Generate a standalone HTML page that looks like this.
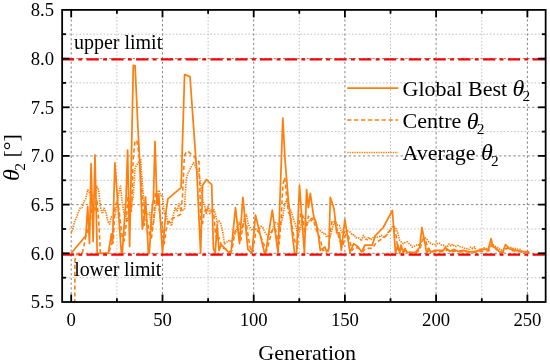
<!DOCTYPE html>
<html><head><meta charset="utf-8"><title>Generation plot</title>
<style>
html,body{margin:0;padding:0;background:#fff;}
svg{display:block;}
text{font-family:"Liberation Serif","DejaVu Serif",serif;fill:#000;}
.tl{font-size:18.7px;}
.it{font-style:italic;}
</style></head><body>
<svg width="550" height="363" viewBox="0 0 550 363">
<rect x="0" y="0" width="550" height="363" fill="#fff"/>
<defs><clipPath id="pc"><rect x="62.15" y="9.9" width="483.45000000000005" height="292.1"/></clipPath></defs>
<g stroke="#c2c2c2" stroke-width="1" stroke-dasharray="1.6 1.85" fill="none"><line x1="116.9" y1="9.9" x2="116.9" y2="302.0"/><line x1="208.1" y1="9.9" x2="208.1" y2="302.0"/><line x1="299.3" y1="9.9" x2="299.3" y2="302.0"/><line x1="390.5" y1="9.9" x2="390.5" y2="302.0"/><line x1="481.8" y1="9.9" x2="481.8" y2="302.0"/><line x1="62.15" y1="277.7" x2="545.6" y2="277.7"/><line x1="62.15" y1="229.0" x2="545.6" y2="229.0"/><line x1="62.15" y1="180.3" x2="545.6" y2="180.3"/><line x1="62.15" y1="131.6" x2="545.6" y2="131.6"/><line x1="62.15" y1="82.9" x2="545.6" y2="82.9"/><line x1="62.15" y1="34.2" x2="545.6" y2="34.2"/></g>
<g stroke="#858585" stroke-width="1" stroke-dasharray="2.3 2.4" fill="none"><line x1="71.2" y1="9.9" x2="71.2" y2="302.0"/><line x1="162.5" y1="9.9" x2="162.5" y2="302.0"/><line x1="253.7" y1="9.9" x2="253.7" y2="302.0"/><line x1="344.9" y1="9.9" x2="344.9" y2="302.0"/><line x1="436.1" y1="9.9" x2="436.1" y2="302.0"/><line x1="527.4" y1="9.9" x2="527.4" y2="302.0"/><line x1="62.15" y1="253.3" x2="545.6" y2="253.3"/><line x1="62.15" y1="204.6" x2="545.6" y2="204.6"/><line x1="62.15" y1="155.9" x2="545.6" y2="155.9"/><line x1="62.15" y1="107.3" x2="545.6" y2="107.3"/><line x1="62.15" y1="58.6" x2="545.6" y2="58.6"/></g>
<g clip-path="url(#pc)" fill="none" stroke="#FF7F0E" stroke-linejoin="round"><polyline stroke-width="1.7" stroke-dasharray="1.4 1.0" points="71.2,233.8 73.1,227.5 74.9,220.9 76.7,217.1 78.5,211.7 80.4,207.7 82.2,207.5 84.0,201.5 85.8,198.7 87.7,189.9 89.5,192.4 91.3,195.5 93.1,194.6 95.0,197.8 96.8,186.4 98.6,189.8 100.4,206.9 102.3,213.7 104.1,208.2 105.9,212.3 107.7,221.2 109.6,224.1 111.4,216.8 113.2,216.5 115.0,214.3 116.9,204.2 118.7,193.3 120.5,186.0 122.3,203.7 124.2,213.9 126.0,216.3 127.8,220.6 129.6,211.3 131.5,204.6 133.3,194.9 135.1,167.6 136.9,164.7 138.8,161.8 140.6,158.9 142.4,185.2 144.2,204.6 146.1,211.4 147.9,214.1 149.7,212.6 151.5,229.2 153.4,223.0 155.2,209.3 157.0,198.6 158.8,190.2 160.7,195.3 162.5,195.6 164.3,213.5 166.1,213.7 167.9,223.7 169.8,221.3 171.6,226.1 173.4,214.8 175.2,207.8 177.1,211.1 178.9,203.6 180.7,210.7 182.5,210.3 184.4,209.5 186.2,179.3 188.0,173.5 189.8,169.6 191.7,165.7 193.5,162.8 195.3,165.7 197.1,169.6 199.0,174.4 200.8,185.2 202.6,199.8 204.4,204.6 206.3,213.3 208.1,206.0 209.9,213.5 211.7,211.1 213.6,208.8 215.4,213.7 217.2,223.0 219.0,221.0 220.9,223.8 222.7,232.0 224.5,243.8 226.3,242.6 228.2,241.0 230.0,240.2 231.8,241.8 233.6,235.9 235.5,233.1 237.3,228.2 239.1,222.4 240.9,227.8 242.8,227.8 244.6,216.0 246.4,214.6 248.2,223.8 250.1,227.7 251.9,230.4 253.7,229.5 255.5,229.3 257.3,228.9 259.2,229.1 261.0,226.3 262.8,227.3 264.6,231.7 266.5,234.3 268.3,236.2 270.1,231.7 271.9,231.6 273.8,226.1 275.6,222.7 277.4,223.6 279.2,230.2 281.1,223.3 282.9,216.3 284.7,204.2 286.5,200.3 288.4,207.0 290.2,209.3 292.0,214.2 293.8,220.4 295.7,225.3 297.5,232.9 299.3,232.7 301.1,225.0 303.0,216.2 304.8,217.9 306.6,226.3 308.4,221.0 310.3,220.3 312.1,221.0 313.9,217.9 315.7,221.7 317.6,228.3 319.4,230.5 321.2,231.1 323.0,233.5 324.9,233.1 326.7,237.1 328.5,235.9 330.3,236.3 332.2,229.0 334.0,223.1 335.8,221.9 337.6,225.1 339.5,225.6 341.3,231.9 343.1,232.5 344.9,232.8 346.7,230.4 348.6,231.1 350.4,232.2 352.2,234.9 354.0,234.8 355.9,237.7 357.7,237.5 359.5,238.3 361.3,240.9 363.2,235.4 365.0,237.5 366.8,240.5 368.6,237.0 370.5,239.6 372.3,238.4 374.1,236.8 375.9,237.6 377.8,237.0 379.6,236.6 381.4,235.4 383.2,237.1 385.1,237.0 386.9,234.6 388.7,231.1 390.5,229.5 392.4,226.5 394.2,226.5 396.0,228.3 397.8,233.1 399.7,240.4 401.5,242.2 403.3,243.7 405.1,242.5 407.0,241.9 408.8,243.4 410.6,244.9 412.4,247.1 414.3,246.2 416.1,245.3 417.9,244.4 419.7,245.4 421.6,241.2 423.4,237.4 425.2,238.0 427.0,239.6 428.9,242.0 430.7,243.3 432.5,244.2 434.3,244.5 436.1,244.2 438.0,243.3 439.8,243.3 441.6,245.0 443.4,245.2 445.3,246.4 447.1,246.9 448.9,243.9 450.7,245.9 452.6,244.1 454.4,246.1 456.2,246.4 458.0,245.5 459.9,246.6 461.7,246.9 463.5,247.8 465.3,248.6 467.2,248.7 469.0,249.5 470.8,247.2 472.6,248.5 474.5,246.8 476.3,251.4 478.1,250.4 479.9,249.3 481.8,249.6 483.6,248.1 485.4,247.9 487.2,248.9 489.1,248.6 490.9,244.9 492.7,245.2 494.5,245.3 496.4,247.4 498.2,248.1 500.0,249.5 501.8,249.9 503.7,249.1 505.5,248.9 507.3,248.3 509.1,247.8 511.0,247.5 512.8,248.3 514.6,248.2 516.4,248.8 518.3,249.6 520.1,249.4 521.9,251.4 523.7,251.6 525.6,251.3 527.4,251.9 529.2,251.9"/><polyline stroke-width="1.6" stroke-dasharray="4.2 2.7" points="71.2,1129.6 73.1,1129.6 74.9,260.1 76.7,254.8 78.5,253.3 80.4,253.3 82.2,253.3 84.0,245.5 85.8,236.8 87.7,230.5 89.5,227.5 91.3,210.2 93.1,208.1 95.0,209.9 96.8,199.2 98.6,218.9 100.4,253.3 102.3,253.3 104.1,253.3 105.9,253.3 107.7,253.3 109.6,250.6 111.4,243.7 113.2,242.6 115.0,206.4 116.9,202.0 118.7,208.0 120.5,223.1 122.3,238.2 124.2,241.0 126.0,225.6 127.8,198.0 129.6,201.9 131.5,211.2 133.3,156.9 135.1,140.6 136.9,140.7 138.8,152.8 140.6,176.7 142.4,198.2 144.2,225.2 146.1,219.4 147.9,223.3 149.7,236.4 151.5,237.9 153.4,222.9 155.2,193.9 157.0,193.0 158.8,206.8 160.7,220.0 162.5,227.0 164.3,243.7 166.1,229.9 167.9,222.8 169.8,219.9 171.6,219.0 173.4,218.1 175.2,217.1 177.1,216.2 178.9,215.3 180.7,214.3 182.5,196.0 184.4,155.9 186.2,152.1 188.0,151.1 189.8,152.8 191.7,154.6 193.5,156.3 195.3,158.1 197.1,159.8 199.0,161.6 200.8,220.6 202.6,223.6 204.4,211.3 206.3,209.8 208.1,209.2 209.9,209.4 211.7,210.4 213.6,211.5 215.4,233.4 217.2,240.8 219.0,237.6 220.9,243.8 222.7,248.4 224.5,248.4 226.3,249.5 228.2,250.6 230.0,251.8 231.8,251.1 233.6,240.1 235.5,229.2 237.3,226.8 239.1,230.8 240.9,240.2 242.8,225.6 244.6,219.8 246.4,224.4 248.2,236.0 250.1,247.5 251.9,251.7 253.7,245.3 255.5,233.8 257.3,230.8 259.2,232.6 261.0,237.2 262.8,241.8 264.6,246.4 266.5,251.0 268.3,244.9 270.1,237.9 271.9,230.9 273.8,228.1 275.6,229.8 277.4,237.9 279.2,243.8 281.1,219.2 282.9,185.2 284.7,177.4 286.5,194.9 288.4,212.4 290.2,215.1 292.0,226.4 293.8,235.7 295.7,245.0 297.5,248.2 299.3,222.6 301.1,212.4 303.0,218.5 304.8,233.6 306.6,224.7 308.4,216.2 310.3,219.9 312.1,218.1 313.9,221.1 315.7,228.4 317.6,232.9 319.4,237.0 321.2,243.1 323.0,250.6 324.9,249.8 326.7,249.8 328.5,251.0 330.3,231.3 332.2,220.1 334.0,221.4 335.8,224.8 337.6,231.3 339.5,241.0 341.3,241.0 343.1,245.1 344.9,235.9 346.7,233.9 348.6,236.7 350.4,243.6 352.2,250.4 354.0,247.7 355.9,247.7 357.7,248.0 359.5,248.8 361.3,250.0 363.2,251.3 365.0,249.0 366.8,248.4 368.6,248.4 370.5,248.4 372.3,248.4 374.1,245.9 375.9,242.7 377.8,241.6 379.6,240.4 381.4,239.3 383.2,238.2 385.1,236.4 386.9,234.4 388.7,232.3 390.5,230.3 392.4,228.2 394.2,228.6 396.0,235.2 397.8,249.3 399.7,248.6 401.5,249.0 403.3,249.6 405.1,251.2 407.0,250.6 408.8,251.6 410.6,252.7 412.4,252.7 414.3,252.7 416.1,252.7 417.9,251.5 419.7,250.2 421.6,242.8 423.4,238.8 425.2,239.5 427.0,245.2 428.9,251.1 430.7,250.6 432.5,251.6 434.3,251.7 436.1,251.6 438.0,251.6 439.8,251.6 441.6,251.6 443.4,251.6 445.3,250.3 447.1,249.9 448.9,250.3 450.7,251.3 452.6,251.6 454.4,251.1 456.2,251.0 458.0,251.3 459.9,251.9 461.7,251.8 463.5,251.6 465.3,251.6 467.2,251.7 469.0,252.0 470.8,252.3 472.6,252.3 474.5,252.2 476.3,252.2 478.1,251.9 479.9,251.5 481.8,251.1 483.6,251.0 485.4,251.0 487.2,251.0 489.1,250.6 490.9,246.3 492.7,244.6 494.5,246.6 496.4,249.5 498.2,250.1 500.0,251.1 501.8,252.1 503.7,252.1 505.5,249.0 507.3,248.2 509.1,248.6 511.0,249.7 512.8,250.7 514.6,251.0 516.4,251.2 518.3,251.5 520.1,251.7 521.9,251.9 523.7,252.1 525.6,252.3 527.4,252.5 529.2,252.6"/><polyline stroke-width="1.75" points="71.2,253.3 85.8,235.8 87.7,206.6 89.5,243.6 91.1,163.7 93.1,241.6 95.0,155.0 97.2,253.3 108.3,253.3 111.4,233.8 112.5,243.6 114.9,162.8 121.4,253.3 122.3,253.3 124.2,224.1 126.0,199.8 127.6,150.1 129.6,246.5 133.3,65.4 135.1,65.9 138.0,129.7 139.5,156.9 142.4,229.0 144.2,219.2 145.5,196.8 148.4,253.3 149.3,253.3 152.4,204.6 153.4,199.8 155.0,141.3 157.0,204.6 158.8,194.9 162.5,253.3 165.6,214.4 167.9,198.8 181.1,187.6 184.6,74.6 190.0,76.5 197.0,175.4 200.6,253.3 202.6,185.2 206.6,179.5 211.7,184.6 213.4,248.4 215.2,253.3 217.2,224.6 219.0,250.4 221.2,244.6 229.8,253.3 230.9,253.3 235.5,207.6 239.5,243.6 242.9,197.4 247.9,249.4 251.9,253.3 255.5,215.0 264.6,253.3 265.6,253.3 272.3,210.1 278.1,253.3 282.8,118.2 285.1,160.8 288.4,200.7 294.6,253.3 296.6,253.3 299.5,185.2 304.4,253.3 306.6,189.7 308.4,207.6 310.3,193.4 312.6,209.5 313.9,217.3 315.7,221.2 318.3,234.8 320.3,250.4 324.9,247.0 326.7,251.9 328.9,248.4 330.3,197.4 334.0,208.5 336.7,232.9 339.5,232.9 341.3,250.4 344.9,219.7 350.0,252.3 353.7,243.6 357.7,246.5 361.7,251.9 365.0,245.0 372.3,245.0 375.2,235.8 383.2,227.5 392.4,210.5 395.5,253.3 397.8,244.6 399.7,253.3 401.1,245.0 403.3,253.3 405.1,248.4 407.0,252.3 415.5,252.3 419.7,247.5 421.9,227.5 424.5,240.7 426.7,253.3 428.9,248.4 430.7,252.3 434.3,250.4 443.4,250.4 445.3,247.5 449.7,251.4 454.4,249.4 458.0,251.4 463.5,250.4 469.0,251.9 476.3,251.4 481.8,249.4 488.3,249.4 491.1,238.7 492.7,246.5 495.4,248.0 501.3,253.3 502.7,252.3 505.5,244.6 507.3,246.5 509.9,248.9 518.3,250.9 527.4,252.3 529.2,252.5"/></g>
<line x1="61.75" y1="59.4" x2="545.6" y2="59.4" stroke="#FF0000" stroke-width="2.2" stroke-dasharray="12.3 4.3 3.88 4.3"/><line x1="61.75" y1="254.7" x2="545.6" y2="254.7" stroke="#FF0000" stroke-width="2.2" stroke-dasharray="12.3 4.3 3.88 4.3"/>
<g stroke="#000" stroke-width="1.8" fill="none"><line x1="71.2" y1="302.0" x2="71.2" y2="294.5"/><line x1="71.2" y1="9.9" x2="71.2" y2="17.4"/><line x1="116.9" y1="302.0" x2="116.9" y2="298.2"/><line x1="116.9" y1="9.9" x2="116.9" y2="13.7"/><line x1="162.5" y1="302.0" x2="162.5" y2="294.5"/><line x1="162.5" y1="9.9" x2="162.5" y2="17.4"/><line x1="208.1" y1="302.0" x2="208.1" y2="298.2"/><line x1="208.1" y1="9.9" x2="208.1" y2="13.7"/><line x1="253.7" y1="302.0" x2="253.7" y2="294.5"/><line x1="253.7" y1="9.9" x2="253.7" y2="17.4"/><line x1="299.3" y1="302.0" x2="299.3" y2="298.2"/><line x1="299.3" y1="9.9" x2="299.3" y2="13.7"/><line x1="344.9" y1="302.0" x2="344.9" y2="294.5"/><line x1="344.9" y1="9.9" x2="344.9" y2="17.4"/><line x1="390.5" y1="302.0" x2="390.5" y2="298.2"/><line x1="390.5" y1="9.9" x2="390.5" y2="13.7"/><line x1="436.1" y1="302.0" x2="436.1" y2="294.5"/><line x1="436.1" y1="9.9" x2="436.1" y2="17.4"/><line x1="481.8" y1="302.0" x2="481.8" y2="298.2"/><line x1="481.8" y1="9.9" x2="481.8" y2="13.7"/><line x1="527.4" y1="302.0" x2="527.4" y2="294.5"/><line x1="527.4" y1="9.9" x2="527.4" y2="17.4"/><line x1="62.15" y1="277.7" x2="65.95" y2="277.7"/><line x1="545.6" y1="277.7" x2="541.8000000000001" y2="277.7"/><line x1="62.15" y1="253.3" x2="69.65" y2="253.3"/><line x1="545.6" y1="253.3" x2="538.1" y2="253.3"/><line x1="62.15" y1="229.0" x2="65.95" y2="229.0"/><line x1="545.6" y1="229.0" x2="541.8000000000001" y2="229.0"/><line x1="62.15" y1="204.6" x2="69.65" y2="204.6"/><line x1="545.6" y1="204.6" x2="538.1" y2="204.6"/><line x1="62.15" y1="180.3" x2="65.95" y2="180.3"/><line x1="545.6" y1="180.3" x2="541.8000000000001" y2="180.3"/><line x1="62.15" y1="155.9" x2="69.65" y2="155.9"/><line x1="545.6" y1="155.9" x2="538.1" y2="155.9"/><line x1="62.15" y1="131.6" x2="65.95" y2="131.6"/><line x1="545.6" y1="131.6" x2="541.8000000000001" y2="131.6"/><line x1="62.15" y1="107.3" x2="69.65" y2="107.3"/><line x1="545.6" y1="107.3" x2="538.1" y2="107.3"/><line x1="62.15" y1="82.9" x2="65.95" y2="82.9"/><line x1="545.6" y1="82.9" x2="541.8000000000001" y2="82.9"/><line x1="62.15" y1="58.6" x2="69.65" y2="58.6"/><line x1="545.6" y1="58.6" x2="538.1" y2="58.6"/><line x1="62.15" y1="34.2" x2="65.95" y2="34.2"/><line x1="545.6" y1="34.2" x2="541.8000000000001" y2="34.2"/><rect x="62.15" y="9.9" width="483.5" height="292.1"/></g>
<text class="tl" x="54.1" y="308.4" text-anchor="end">5.5</text><text class="tl" x="54.1" y="259.7" text-anchor="end">6.0</text><text class="tl" x="54.1" y="211.0" text-anchor="end">6.5</text><text class="tl" x="54.1" y="162.3" text-anchor="end">7.0</text><text class="tl" x="54.1" y="113.7" text-anchor="end">7.5</text><text class="tl" x="54.1" y="65.0" text-anchor="end">8.0</text><text class="tl" x="54.1" y="16.3" text-anchor="end">8.5</text><text class="tl" x="71.2" y="326.4" text-anchor="middle">0</text><text class="tl" x="162.5" y="326.4" text-anchor="middle">50</text><text class="tl" x="253.7" y="326.4" text-anchor="middle">100</text><text class="tl" x="344.9" y="326.4" text-anchor="middle">150</text><text class="tl" x="436.1" y="326.4" text-anchor="middle">200</text><text class="tl" x="527.4" y="326.4" text-anchor="middle">250</text>
<text x="73.9" y="48.6" font-size="20">upper limit</text><text x="74.3" y="275.6" font-size="20" textLength="87">lower limit</text><text x="307.2" y="360.2" font-size="22" text-anchor="middle">Generation</text><text transform="translate(18.1,157.5) rotate(-90)" font-size="22" text-anchor="middle"><tspan class="it" font-size="24" dy="1.1">θ</tspan><tspan font-size="15.4" dy="5.3" dx="-1.6">2</tspan><tspan dy="-6.4"> [°]</tspan></text><line x1="347.2" y1="88.1" x2="398.2" y2="88.1" stroke="#FF7F0E" stroke-width="1.7"/><line x1="347.2" y1="120.0" x2="398.2" y2="120.0" stroke="#FF7F0E" stroke-width="1.7" stroke-dasharray="4.2 2.7"/><line x1="347.2" y1="152.5" x2="398.2" y2="152.5" stroke="#FF7F0E" stroke-width="1.7" stroke-dasharray="1.4 1.0"/><text x="402.6" y="95.5" font-size="22">Global Best <tspan class="it" font-size="24" dy="0.5">θ</tspan><tspan font-size="15.4" dy="5.3" dx="-1.8">2</tspan></text><text x="402.6" y="128.0" font-size="22">Centre <tspan class="it" font-size="24" dy="0.5">θ</tspan><tspan font-size="15.4" dy="5.3" dx="-1.8">2</tspan></text><text x="402.6" y="159.8" font-size="22">Average <tspan class="it" font-size="24" dy="0.5">θ</tspan><tspan font-size="15.4" dy="5.3" dx="-1.8">2</tspan></text>
</svg></body></html>
